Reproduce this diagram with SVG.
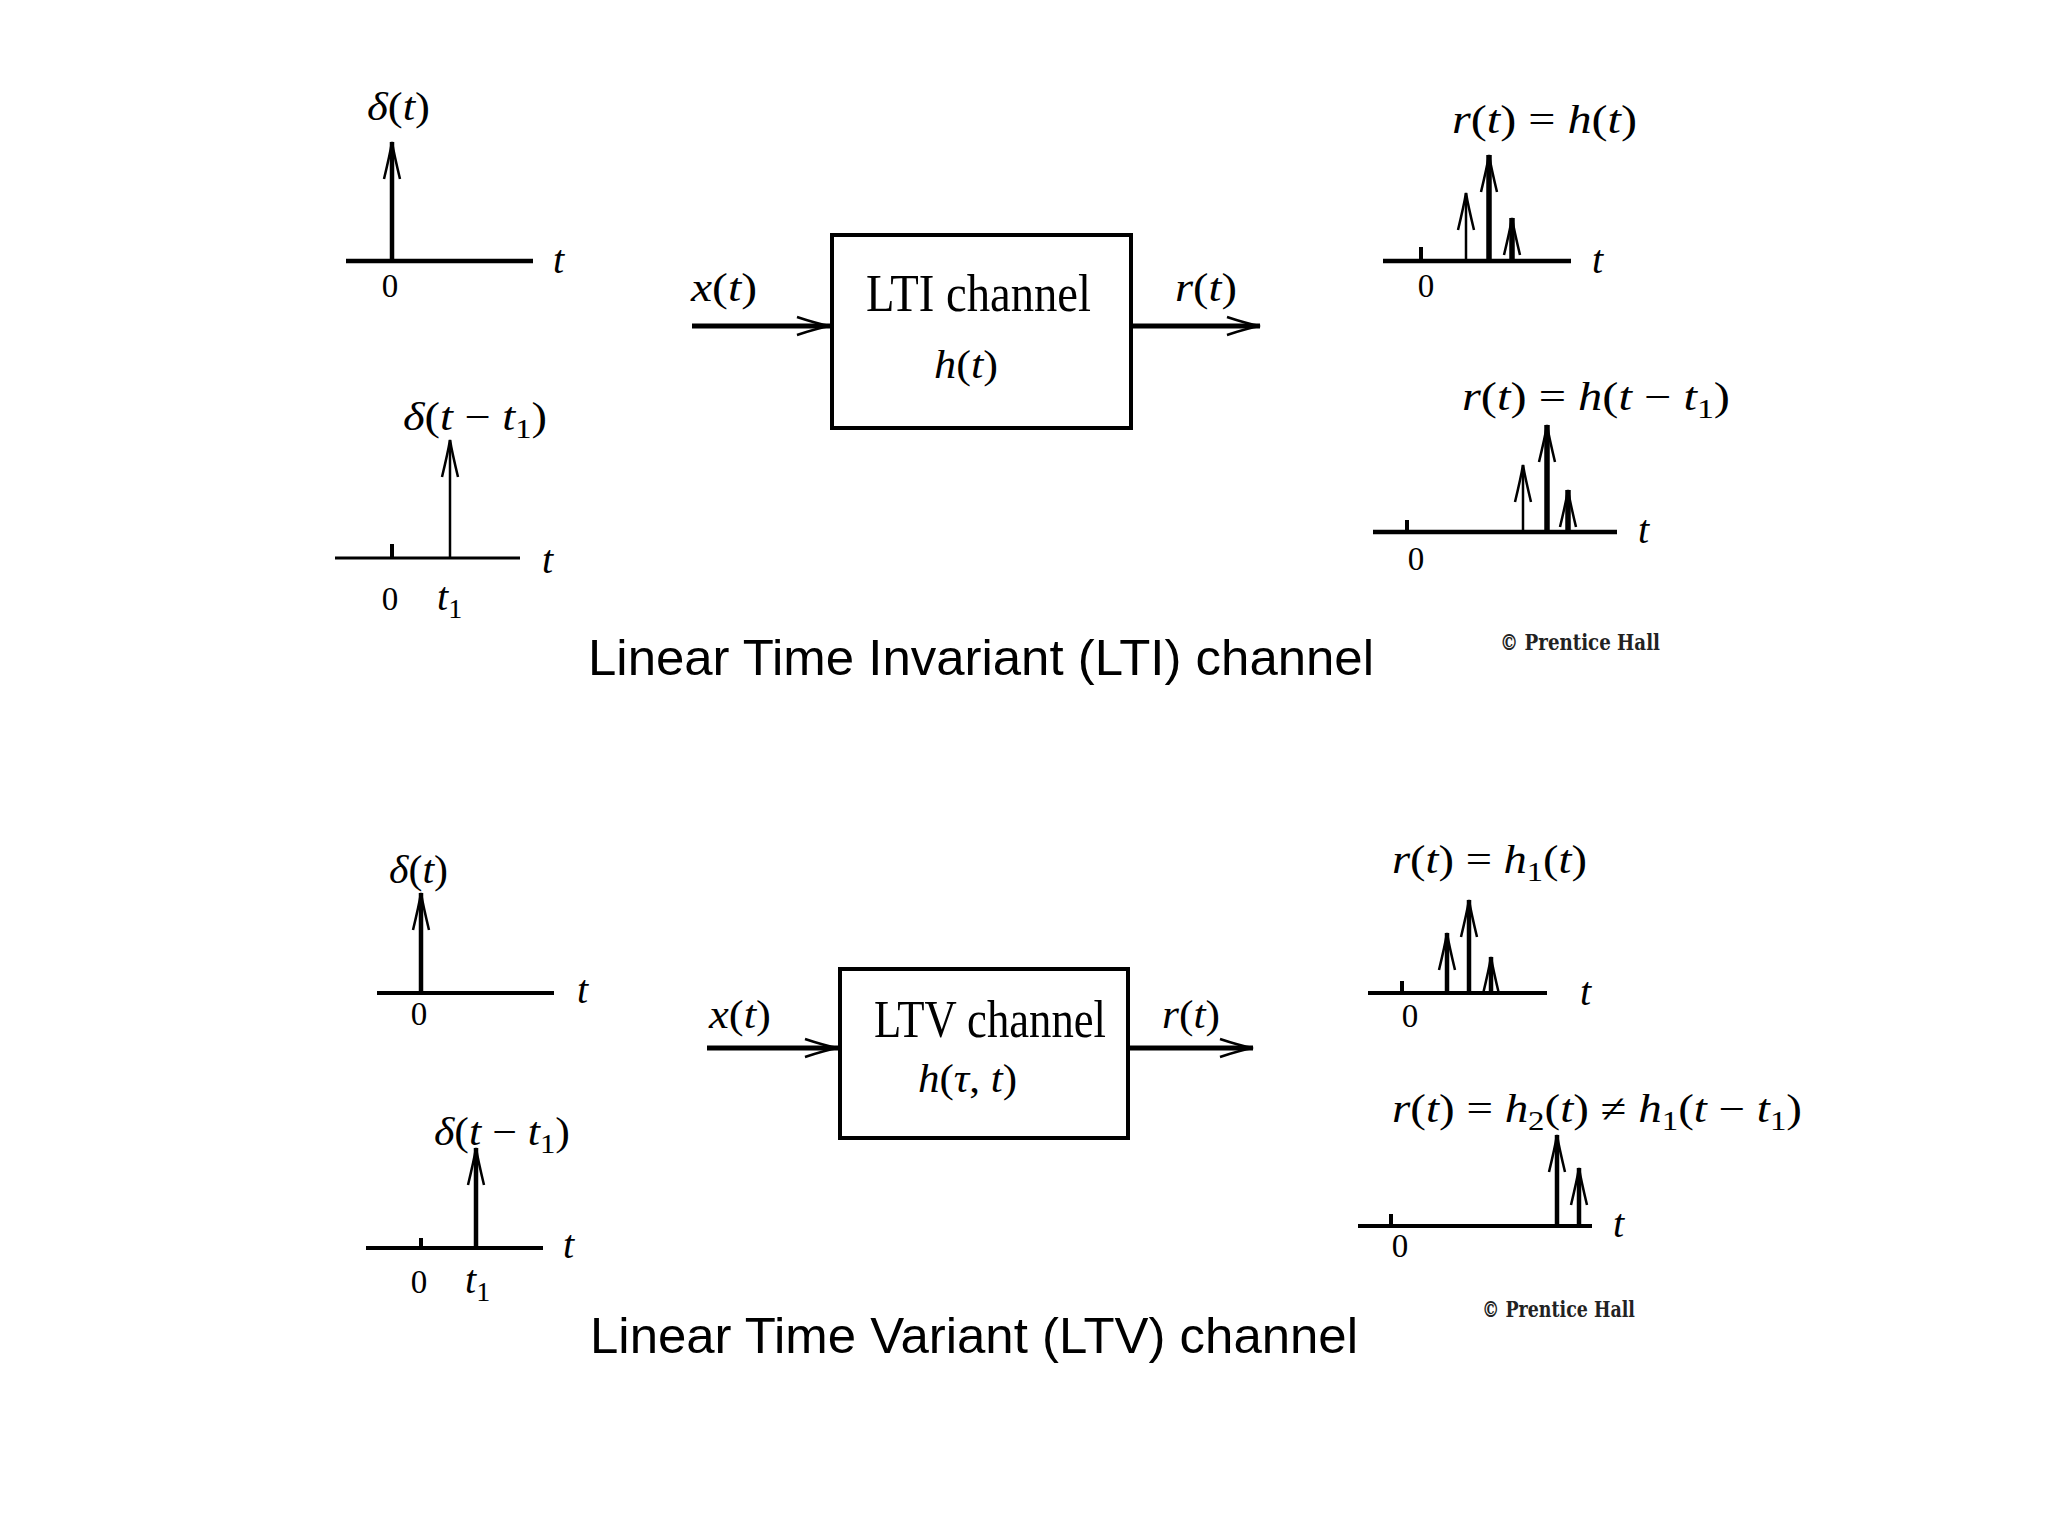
<svg xmlns="http://www.w3.org/2000/svg" width="2048" height="1536" viewBox="0 0 2048 1536">
<style>
.bg{fill:#fff}
.m{font-family:"Liberation Serif","DejaVu Serif",serif;font-size:40px;fill:#000}
.i{font-style:italic}
.sub{font-size:28px;font-style:normal}
.z{font-family:"Liberation Serif",serif;font-size:33px;fill:#000;text-anchor:middle}
.lbl{font-family:"Liberation Serif",serif;font-size:52px;fill:#000}
.cap{font-family:"Liberation Sans",Arial,sans-serif;font-size:50px;fill:#000}
.cp{font-family:"DejaVu Serif","Liberation Serif",serif;font-size:22px;font-weight:bold;fill:#222}
.ax{stroke:#000;stroke-width:4.5;fill:none}
.ax3{stroke:#000;stroke-width:3;fill:none}
.tk{stroke:#000;stroke-width:4;fill:none}
.imp{stroke:#000;stroke-width:4.5;fill:none;marker-end:url(#barb)}
.impt{stroke:#000;stroke-width:2.5;fill:none;marker-end:url(#barb)}
.impk{stroke:#000;stroke-width:5.5;fill:none;marker-end:url(#barb)}
.box{fill:none;stroke:#000;stroke-width:4}
.ar{stroke:#000;stroke-width:5;fill:none;marker-end:url(#arr)}
</style>
<defs>
<marker id="barb" markerUnits="userSpaceOnUse" orient="auto" refX="0" refY="0" markerWidth="60" markerHeight="30" viewBox="-45 -15 60 30" overflow="visible">
<path d="M-37,-8 Q-12,-2 0,0 Q-12,2 -37,8" fill="none" stroke="#000" stroke-width="2.5"/>
</marker>
<marker id="arr" markerUnits="userSpaceOnUse" orient="auto" refX="0" refY="0" markerWidth="44" markerHeight="26" viewBox="-40 -13 44 26" overflow="visible">
<path d="M-33,-9 Q-12,-2 0,0 Q-12,2 -33,9" fill="none" stroke="#000" stroke-width="2.5"/>
</marker>
</defs>
<rect class="bg" x="0" y="0" width="2048" height="1536"/>

<!-- ===== LTI section ===== -->
<g id="lti-input-delta">
<text class="m" x="367" y="120" textLength="63" lengthAdjust="spacingAndGlyphs"><tspan class="i">δ</tspan>(<tspan class="i">t</tspan>)</text>
<line class="ax" x1="346" y1="261" x2="533" y2="261"/>
<line class="imp" x1="392" y1="261" x2="392" y2="142"/>
<text class="z" x="390" y="297">0</text>
<text class="m i" x="553" y="273">t</text>
</g>

<g id="lti-input-delta-shift">
<text class="m" x="403" y="430" textLength="144" lengthAdjust="spacingAndGlyphs"><tspan class="i">δ</tspan>(<tspan class="i">t</tspan> − <tspan class="i">t</tspan><tspan class="sub" dy="8">1</tspan><tspan dy="-8">)</tspan></text>
<line class="ax3" x1="335" y1="558" x2="520" y2="558"/>
<line class="tk" x1="392" y1="544" x2="392" y2="558"/>
<line class="impt" x1="450" y1="558" x2="450" y2="440"/>
<text class="z" x="390" y="610">0</text>
<text class="m" x="437" y="610"><tspan class="i">t</tspan><tspan class="sub" dy="8">1</tspan></text>
<text class="m i" x="542" y="573">t</text>
</g>

<g id="lti-channel">
<rect class="box" x="832" y="235" width="299" height="193"/>
<text class="lbl" x="866" y="311" textLength="225" lengthAdjust="spacingAndGlyphs">LTI channel</text>
<text class="m" x="934" y="378" textLength="64" lengthAdjust="spacingAndGlyphs"><tspan class="i">h</tspan>(<tspan class="i">t</tspan>)</text>
</g>

<g id="lti-output-1">
<text class="m" x="1452" y="133" textLength="185" lengthAdjust="spacingAndGlyphs"><tspan class="i">r</tspan>(<tspan class="i">t</tspan>) = <tspan class="i">h</tspan>(<tspan class="i">t</tspan>)</text>
<line class="ax" x1="1383" y1="261" x2="1571" y2="261"/>
<line class="tk" x1="1421" y1="247" x2="1421" y2="261"/>
<line class="impt" x1="1466" y1="261" x2="1466" y2="193"/>
<line class="impk" x1="1489" y1="261" x2="1489" y2="155"/>
<line class="impk" x1="1512" y1="261" x2="1512" y2="218"/>
<text class="z" x="1426" y="297">0</text>
<text class="m i" x="1592" y="273">t</text>
</g>

<g id="lti-output-2">
<text class="m" x="1462" y="410" textLength="268" lengthAdjust="spacingAndGlyphs"><tspan class="i">r</tspan>(<tspan class="i">t</tspan>) = <tspan class="i">h</tspan>(<tspan class="i">t</tspan> − <tspan class="i">t</tspan><tspan class="sub" dy="8">1</tspan><tspan dy="-8">)</tspan></text>
<line class="ax" x1="1373" y1="532" x2="1617" y2="532"/>
<line class="tk" x1="1407" y1="520" x2="1407" y2="532"/>
<line class="impt" x1="1523" y1="532" x2="1523" y2="465"/>
<line class="impk" x1="1547" y1="532" x2="1547" y2="425"/>
<line class="impk" x1="1568" y1="532" x2="1568" y2="490"/>
<text class="z" x="1416" y="570">0</text>
<text class="m i" x="1638" y="543">t</text>
</g>

<g id="lti-copyright">
<text class="cp" x="1500" y="650" textLength="160" lengthAdjust="spacingAndGlyphs">© Prentice Hall</text>
</g>

<g id="lti-caption">
<text class="cap" x="588" y="675" textLength="786" lengthAdjust="spacingAndGlyphs">Linear Time Invariant (LTI) channel</text>
</g>

<!-- ===== LTV section ===== -->
<g id="ltv-input-delta">
<text class="m" x="389" y="883" textLength="59" lengthAdjust="spacingAndGlyphs" font-size="38"><tspan class="i">δ</tspan>(<tspan class="i">t</tspan>)</text>
<line class="tk" x1="377" y1="993" x2="554" y2="993"/>
<line class="imp" x1="421" y1="993" x2="421" y2="893"/>
<text class="z" x="419" y="1025">0</text>
<text class="m i" x="577" y="1003">t</text>
</g>

<g id="ltv-input-delta-shift">
<text class="m" x="434" y="1145" textLength="136" lengthAdjust="spacingAndGlyphs"><tspan class="i">δ</tspan>(<tspan class="i">t</tspan> − <tspan class="i">t</tspan><tspan class="sub" dy="8">1</tspan><tspan dy="-8">)</tspan></text>
<line class="tk" x1="366" y1="1248" x2="543" y2="1248"/>
<line class="tk" x1="421" y1="1238" x2="421" y2="1248"/>
<line class="imp" x1="476" y1="1248" x2="476" y2="1148"/>
<text class="z" x="419" y="1293">0</text>
<text class="m" x="465" y="1293"><tspan class="i">t</tspan><tspan class="sub" dy="8">1</tspan></text>
<text class="m i" x="563" y="1258">t</text>
</g>

<g id="ltv-channel">
<rect class="box" x="840" y="969" width="288" height="169"/>
<text class="lbl" x="874" y="1037" textLength="232" lengthAdjust="spacingAndGlyphs">LTV channel</text>
<text class="m" x="918" y="1092" textLength="99" lengthAdjust="spacingAndGlyphs"><tspan class="i">h</tspan>(<tspan class="i">τ</tspan>, <tspan class="i">t</tspan>)</text>
</g>

<g id="ltv-output-1">
<text class="m" x="1392" y="873" textLength="195" lengthAdjust="spacingAndGlyphs"><tspan class="i">r</tspan>(<tspan class="i">t</tspan>) = <tspan class="i">h</tspan><tspan class="sub" dy="8">1</tspan><tspan dy="-8">(</tspan><tspan class="i">t</tspan>)</text>
<line class="tk" x1="1368" y1="993" x2="1547" y2="993"/>
<line class="tk" x1="1402" y1="981" x2="1402" y2="993"/>
<line class="imp" x1="1447" y1="993" x2="1447" y2="933"/>
<line class="imp" x1="1469" y1="993" x2="1469" y2="900"/>
<line class="imp" x1="1491" y1="993" x2="1491" y2="957"/>
<text class="z" x="1410" y="1027">0</text>
<text class="m i" x="1580" y="1005">t</text>
</g>

<g id="ltv-output-2">
<text class="m" x="1392" y="1122" textLength="410" lengthAdjust="spacingAndGlyphs"><tspan class="i">r</tspan>(<tspan class="i">t</tspan>) = <tspan class="i">h</tspan><tspan class="sub" dy="8">2</tspan><tspan dy="-8">(</tspan><tspan class="i">t</tspan>) ≠ <tspan class="i">h</tspan><tspan class="sub" dy="8">1</tspan><tspan dy="-8">(</tspan><tspan class="i">t</tspan> − <tspan class="i">t</tspan><tspan class="sub" dy="8">1</tspan><tspan dy="-8">)</tspan></text>
<line class="tk" x1="1358" y1="1226" x2="1592" y2="1226"/>
<line class="tk" x1="1391" y1="1214" x2="1391" y2="1226"/>
<line class="imp" x1="1557" y1="1226" x2="1557" y2="1135"/>
<line class="imp" x1="1579" y1="1226" x2="1579" y2="1168"/>
<text class="z" x="1400" y="1257">0</text>
<text class="m i" x="1613" y="1237">t</text>
</g>

<g id="ltv-copyright">
<text class="cp" x="1482" y="1317" textLength="153" lengthAdjust="spacingAndGlyphs">© Prentice Hall</text>
</g>

<g id="ltv-caption">
<text class="cap" x="590" y="1353" textLength="768" lengthAdjust="spacingAndGlyphs">Linear Time Variant (LTV) channel</text>
</g>

<!-- ===== connectors ===== -->
<g id="connectors">
<line class="ar" x1="692" y1="326" x2="830" y2="326"/>
<text class="m" x="691" y="301" textLength="66" lengthAdjust="spacingAndGlyphs"><tspan class="i">x</tspan>(<tspan class="i">t</tspan>)</text>
<line class="ar" x1="1131" y1="326" x2="1260" y2="326"/>
<text class="m" x="1175" y="301" textLength="62" lengthAdjust="spacingAndGlyphs"><tspan class="i">r</tspan>(<tspan class="i">t</tspan>)</text>
<line class="ar" x1="707" y1="1048" x2="838" y2="1048"/>
<text class="m" x="709" y="1028" textLength="62" lengthAdjust="spacingAndGlyphs"><tspan class="i">x</tspan>(<tspan class="i">t</tspan>)</text>
<line class="ar" x1="1128" y1="1048" x2="1253" y2="1048"/>
<text class="m" x="1162" y="1028" textLength="58" lengthAdjust="spacingAndGlyphs"><tspan class="i">r</tspan>(<tspan class="i">t</tspan>)</text>
</g>
</svg>
